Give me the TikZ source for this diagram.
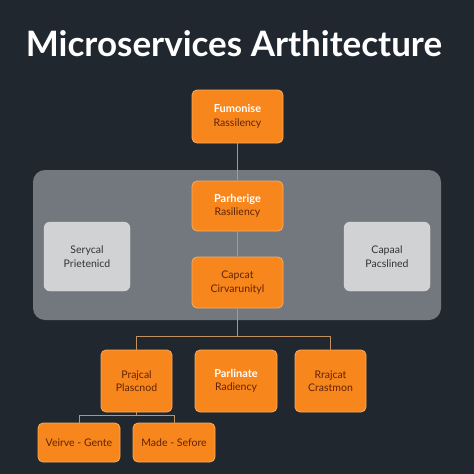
\documentclass[tikz,border=0pt]{standalone}
\usepackage{fontspec}
\setmainfont{Lato}
\definecolor{bgdark}{RGB}{32,39,47}
\definecolor{panelgray}{RGB}{114,120,126}
\definecolor{boxorange}{RGB}{247,134,28}
\definecolor{boxedge}{RGB}{250,172,95}
\definecolor{lightbox}{RGB}{208,210,211}
\definecolor{brown}{RGB}{95,36,6}
\definecolor{linktan}{RGB}{196,146,96}
\begin{document}
\begin{tikzpicture}[x=1pt,y=-1pt, line join=round, line cap=round,
	obox/.style={draw=boxedge, line width=0.8pt, fill=boxorange, rounded corners=5pt, align=center, text=brown, font=\fontsize{10.5}{13.5}\selectfont, inner sep=0pt},
	gbox/.style={draw=lightbox!80!white, fill=lightbox, rounded corners=6pt, align=center, text=black!80, font=\fontsize{10.5}{14}\selectfont, inner sep=0pt},
	link/.style={draw=linktan, line width=0.8pt}]
	\def\hd#1{{\color{white}\bfseries\fontsize{11}{14}\selectfont #1}}
	
	\fill[bgdark] (0,0) rectangle (474,474);
	\useasboundingbox (0,0) rectangle (474,474);
	
	\node[text=white, font=\fontsize{35}{40}\selectfont\bfseries] (title) at (234,44) {Microservices Arthitecture};
	
	% panel
	\node[fill=panelgray, rounded corners=12pt, minimum width=408, minimum height=150, inner sep=0pt] (panel) at (237,245) {};
	
	% centre column
	\node[obox, minimum width=91, minimum height=53] (fumonise) at (237.5,116.5) {\hd{Fumonise}\\Rassilency};
	\node[obox, minimum width=91, minimum height=50] (parherige) at (237.5,206) {\hd{Parherige}\\Rasiliency};
	\node[obox, minimum width=91, minimum height=51] (capcat) at (237.5,282.5) {Capcat\\Cirvarunityl};
	
	% side boxes
	\node[gbox, minimum width=86, minimum height=69] (serycal) at (87,256.5) {Serycal\\Prietenicd};
	\node[gbox, minimum width=86, minimum height=69] (capaal) at (387,256.5) {Capaal\\Pacslined};
	
	% bottom row
	\node[obox, minimum width=71, minimum height=62] (prajcal) at (136.5,381) {Prajcal\\Plascnod};
	\node[obox, minimum width=82, minimum height=62] (parlinate) at (236,381) {\hd{Parlinate}\\Radiency};
	\node[obox, minimum width=71, minimum height=62] (rrajcat) at (330.5,381) {Rrajcat\\Crastmon};
	
	\node[obox, minimum width=82, minimum height=39] (veirve) at (79,442.5) {Veirve - Gente};
	\node[obox, minimum width=82, minimum height=39] (made) at (174,442.5) {Made - Sefore};
	
	% links
	\draw[link] (fumonise) -- (parherige);
	\draw[link] (parherige) -- (capcat);
	\coordinate (split) at (237.5,336);
	\draw[link] (capcat.south) -- (split);
	\draw[link] (split) -| (prajcal.north);
	\draw[link] (split) -| (rrajcat.north);
	\coordinate (split2) at (136.5,415);
	\draw[link] (prajcal.south) -- (split2);
	\draw[link] (split2) -| (veirve.north);
	\draw[link] (split2) -| (made.north);
\end{tikzpicture}
\end{document}
